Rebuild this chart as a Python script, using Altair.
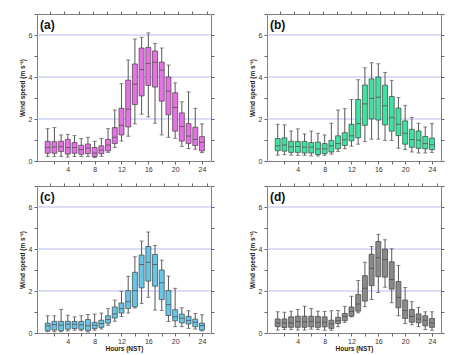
import altair as alt
import pandas as pd

hours = list(range(1, 25))

a_hi = [1.54,1.59,1.24,1.27,1.21,1.07,1.13,0.94,1.07,1.54,2.43,3.68,4.81,5.81,5.89,6.10,5.60,5.38,4.57,3.72,2.82,3.29,2.51,1.77]
a_q3 = [0.94,0.92,0.94,1.03,0.88,0.75,0.81,0.64,0.72,1.03,1.59,2.51,3.85,4.62,5.38,5.41,5.24,4.71,4.00,3.25,2.29,1.78,1.61,1.16]
a_med = [0.64,0.67,0.68,0.64,0.64,0.54,0.62,0.38,0.52,0.76,1.13,1.70,2.47,3.66,4.36,4.65,4.70,4.33,3.33,2.55,1.64,1.19,1.03,0.89]
a_q1 = [0.37,0.37,0.45,0.33,0.37,0.32,0.35,0.21,0.35,0.48,0.83,1.24,1.62,2.69,3.10,3.60,3.52,2.85,2.20,1.42,0.95,0.83,0.73,0.48]
a_lo = [0.22,0.22,0.22,0.19,0.22,0.21,0.21,0.16,0.22,0.41,0.64,0.95,1.18,1.77,2.23,2.10,1.80,1.24,1.13,1.08,0.70,0.59,0.56,0.40]

b_hi = [1.75,1.72,1.43,1.53,1.29,1.43,1.32,1.24,1.80,2.43,2.49,2.93,3.87,4.44,4.68,4.63,4.22,3.84,3.02,2.65,2.08,1.80,1.62,1.78]
b_q3 = [1.07,1.10,0.94,0.93,0.93,0.88,0.90,0.83,0.98,1.20,1.35,1.75,2.93,3.62,3.91,4.00,3.61,3.07,2.52,1.91,1.51,1.43,1.17,1.09]
b_med = [0.72,0.76,0.68,0.69,0.66,0.66,0.57,0.58,0.72,0.83,1.01,1.20,1.78,2.72,2.98,3.04,2.63,2.08,1.75,1.32,1.02,0.99,0.83,0.77]
b_q1 = [0.49,0.47,0.41,0.41,0.38,0.38,0.31,0.35,0.43,0.58,0.74,0.96,1.10,1.70,2.00,1.95,1.72,1.42,1.21,0.80,0.65,0.60,0.58,0.54]
b_lo = [0.28,0.30,0.28,0.27,0.27,0.24,0.24,0.27,0.33,0.46,0.58,0.71,0.80,0.93,1.04,1.04,0.98,0.98,0.61,0.54,0.43,0.38,0.38,0.41]

c_hi = [0.82,0.82,1.12,0.85,0.77,0.82,0.88,0.90,0.95,1.16,1.57,1.99,2.70,3.63,4.38,4.81,4.17,3.47,2.71,2.13,1.20,1.06,0.93,0.87]
c_q3 = [0.47,0.55,0.55,0.56,0.55,0.55,0.64,0.51,0.61,0.82,1.24,1.43,2.02,2.89,3.71,4.12,3.74,3.00,2.02,1.11,0.90,0.79,0.66,0.47]
c_med = [0.34,0.40,0.37,0.42,0.42,0.39,0.35,0.37,0.45,0.64,0.91,1.16,1.49,2.02,3.26,3.37,3.26,2.39,1.35,0.77,0.71,0.59,0.51,0.35]
c_q1 = [0.11,0.14,0.11,0.18,0.21,0.18,0.11,0.21,0.27,0.47,0.71,0.95,1.17,1.25,2.15,2.47,2.23,1.59,0.83,0.58,0.48,0.43,0.30,0.14]
c_lo = [0.06,0.06,0.06,0.10,0.13,0.11,0.05,0.13,0.19,0.37,0.56,0.79,0.95,1.19,1.41,1.70,1.09,1.07,0.55,0.30,0.30,0.22,0.19,0.10]

d_hi = [1.01,0.99,1.04,1.12,1.28,1.17,1.04,1.03,1.06,1.07,1.27,1.75,2.50,3.37,4.12,4.70,4.44,4.01,3.22,2.17,1.49,1.22,1.01,1.01]
d_q3 = [0.67,0.67,0.77,0.80,0.80,0.80,0.79,0.77,0.61,0.75,0.93,1.24,1.83,2.73,3.75,4.36,4.00,3.39,2.45,1.57,1.12,0.91,0.82,0.69]
d_med = [0.48,0.48,0.48,0.55,0.53,0.55,0.51,0.51,0.43,0.59,0.79,1.03,1.38,2.13,3.08,3.58,3.50,2.55,1.70,1.07,0.79,0.67,0.61,0.48]
d_q1 = [0.30,0.26,0.27,0.27,0.27,0.29,0.27,0.29,0.22,0.45,0.59,0.80,1.04,1.52,2.26,2.68,2.66,2.09,1.20,0.69,0.51,0.48,0.34,0.27]
d_lo = [0.14,0.16,0.16,0.14,0.14,0.18,0.16,0.13,0.13,0.30,0.51,0.77,0.96,1.25,1.59,1.93,2.18,1.44,0.82,0.45,0.39,0.30,0.16,0.13]

grid_values = [2, 4, 6]
x_ticks = list(range(2, 25, 2))
y_ticks = list(range(0, 8))

FONT = "Liberation Sans"
W, H = 174, 147
xs = alt.Scale(domain=[0.15, 24.6], nice=False, zero=False)
ys = alt.Scale(domain=[0, 7], nice=False, zero=False)
EDGE = "#444444"


def panel(label, lo, q1, med, q3, hi, color, show_xtitle):
    df = pd.DataFrame(dict(hour=hours, lo=lo, q1=q1, med=med, q3=q3, hi=hi))
    xaxis = alt.Axis(values=x_ticks, labelExpr="datum.value % 4 == 0 ? datum.label : ''",
                     grid=False, tickSize=3, labelPadding=1, domain=False,
                     title="Hours (NST)" if show_xtitle else None, titlePadding=1)
    yaxis = alt.Axis(values=y_ticks, labelExpr="datum.value % 2 == 0 ? datum.label : ''",
                     grid=False, tickSize=3, labelPadding=2, domain=False,
                     title="Wind speed (m s⁻¹)", titlePadding=3)
    X = alt.X("hour:Q", scale=xs, axis=xaxis)

    def Y(f):
        return alt.Y(f + ":Q", scale=ys, axis=yaxis)

    base = alt.Chart(df)
    grid = alt.Chart(pd.DataFrame({"g": grid_values})).mark_rule(
        color="#aaaaee", strokeWidth=0.8).encode(y=Y("g"))
    whisk = base.mark_rule(color=EDGE, strokeWidth=0.9).encode(x=X, y=Y("lo"), y2="hi")
    cap_hi = base.mark_tick(orient="horizontal", size=4, thickness=0.9, color=EDGE).encode(x=X, y=Y("hi"))
    cap_lo = base.mark_tick(orient="horizontal", size=4, thickness=0.9, color=EDGE).encode(x=X, y=Y("lo"))
    box = base.mark_bar(size=5, color=color, stroke=EDGE, strokeWidth=0.7).encode(x=X, y=Y("q1"), y2="q3")
    medt = base.mark_tick(orient="horizontal", size=5, thickness=1, color=EDGE).encode(x=X, y=Y("med"))
    txt = alt.Chart(pd.DataFrame({"t": [label]})).mark_text(
        font=FONT, fontSize=12, fontWeight="bold", align="left", baseline="alphabetic", color="#111"
    ).encode(x=alt.value(3), y=alt.value(15), text="t:N")
    inner = alt.layer(grid, whisk, box, medt, cap_hi, cap_lo, txt)

    mirror = base.mark_point(opacity=0).encode(
        x=alt.X("hour:Q", scale=xs, axis=alt.Axis(orient="top", values=x_ticks, labels=False,
                                                  tickSize=3, grid=False, domain=False, title=None)),
        y=alt.Y("lo:Q", scale=ys, axis=alt.Axis(orient="right", values=y_ticks, labels=False,
                                                tickSize=3, grid=False, domain=False, title=None)),
    )
    return alt.layer(inner, mirror).resolve_scale(x="independent", y="independent").properties(
        width=W, height=H)


pa = panel("(a)", a_lo, a_q1, a_med, a_q3, a_hi, "#e870e6", False)
pb = panel("(b)", b_lo, b_q1, b_med, b_q3, b_hi, "#3de3a0", False)
pc = panel("(c)", c_lo, c_q1, c_med, c_q3, c_hi, "#66c6e8", True)
pd_ = panel("(d)", d_lo, d_q1, d_med, d_q3, d_hi, "#8a8a8a", True)

chart = alt.vconcat(
    alt.hconcat(pa, pb, spacing=33),
    alt.hconcat(pc, pd_, spacing=33),
    spacing=9,
).properties(
    padding={"left": 10, "top": 2, "right": 2, "bottom": 2}
).configure_view(stroke="#808080", strokeWidth=1).configure_axis(
    labelFont=FONT, labelFontSize=7, labelColor="#333333", tickColor="#666666",
    titleFont=FONT, titleFontSize=6.5, titleFontWeight="bold", titleColor="#222222",
)

chart.save("out.html", embed_options={"renderer": "svg", "actions": False})
